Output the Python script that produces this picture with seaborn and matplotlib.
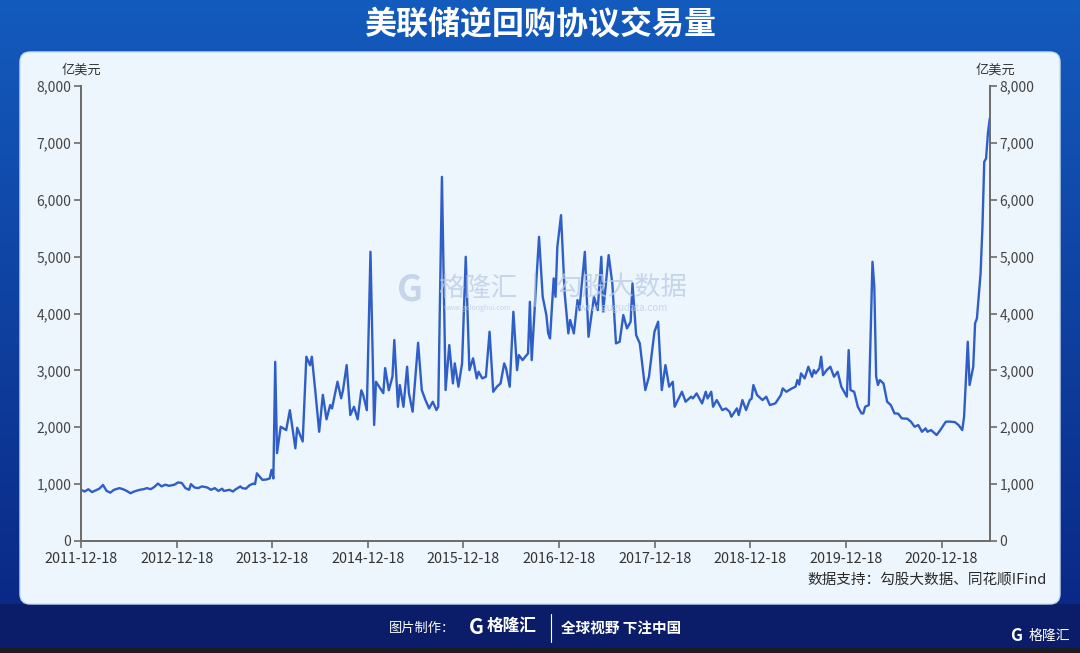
import numpy as np
import pandas as pd
import matplotlib
matplotlib.use("Agg")
import matplotlib.pyplot as plt
from matplotlib.patches import FancyBboxPatch, Rectangle
from matplotlib.ticker import FuncFormatter
import seaborn as sns

# ---------------- data ----------------
start_date = "2011-12-18"
week_offsets = [
    0, 2, 4, 6, 8, 10, 12, 14, 16, 18, 21, 23, 25, 27, 29, 32, 34, 36, 38, 40,
    42, 44, 46, 48, 51, 53, 55, 57, 59, 60, 62, 64, 66, 69, 71, 73, 75, 77, 78, 81,
    83, 84, 87, 88, 90, 92, 94, 95, 96, 99, 101, 103, 104, 105, 106, 107, 109, 112, 114, 117,
    118, 121, 123, 125, 126, 128, 130, 132, 134, 136, 137, 140, 142, 143, 145, 147, 149, 151, 153, 154,
    156, 158, 160, 161, 163, 165, 166, 168, 170, 171, 173, 174, 176, 178, 179, 181, 184, 186, 188, 190,
    192, 194, 195, 197, 199, 201, 203, 204, 206, 208, 210, 212, 214, 216, 217, 219, 221, 223, 225, 227,
    229, 231, 232, 234, 236, 238, 239, 241, 244, 245, 246, 248, 250, 252, 254, 255, 256, 258, 259, 260,
    262, 264, 266, 267, 269, 271, 272, 275, 277, 280, 282, 284, 285, 288, 290, 292, 294, 296, 298, 300,
    301, 303, 305, 308, 310, 313, 315, 317, 319, 321, 323, 324, 328, 330, 333, 334, 336, 339, 341, 342,
    344, 345, 347, 350, 352, 354, 355, 358, 359, 361, 363, 364, 365, 366, 367, 369, 372, 374, 376, 379,
    382, 383, 385, 388, 390, 391, 392, 393, 395, 397, 399, 400, 401, 403, 404, 405, 407, 409, 411, 413,
    415, 417, 418, 419, 420, 422, 424, 426, 427, 428, 430, 432, 433, 434, 435, 436, 438, 440, 442, 444,
    446, 448, 451, 453, 455, 457, 459, 461, 462, 464, 467, 469, 472, 474, 477, 479, 481, 482, 484, 485,
    487, 488, 489, 491, 492, 493, 494, 495, 496,
]
volume = [
    900, 870, 910, 860, 890, 920, 985, 880, 850, 900, 930, 910, 880, 840, 870, 900, 910, 930, 910, 950,
    1010, 960, 990, 970, 990, 1030, 1020, 930, 900, 1000, 940, 930, 960, 940, 900, 930, 880, 920, 880, 900,
    870, 900, 960, 930, 920, 980, 1010, 1000, 1190, 1075, 1080, 1100, 1250, 1100, 3150, 1545, 2009, 1950, 2300, 1630,
    1990, 1750, 3240, 3090, 3240, 2600, 1920, 2570, 2140, 2390, 2330, 2800, 2510, 2650, 3093, 2215, 2360, 2140, 2650, 2570,
    2300, 5085, 2040, 2800, 2700, 2600, 3040, 2650, 2890, 3533, 2360, 2742, 2360, 3064, 2595, 2273, 3486, 2654, 2478, 2332,
    2449, 2303, 2360, 6403, 2654, 3445, 2771, 3123, 2713, 3123, 4997, 3005, 3211, 2859, 2976, 2859, 2888, 3679, 2624, 2713,
    2771, 3123, 3035, 2713, 4030, 3005, 3269, 3181, 3298, 4206, 3181, 4294, 5348, 4294, 3972, 3650, 3562, 4617, 4294, 5172,
    5729, 4353, 3650, 3885, 3650, 4236, 4060, 5084, 3591, 4294, 4060, 4997, 4030, 5026, 4529, 3474, 3504, 3972, 3738, 3855,
    4529, 3621, 3474, 2654, 2888, 3679, 3855, 2654, 3093, 2713, 2800, 2360, 2624, 2449, 2537, 2507, 2595, 2419, 2624, 2507,
    2624, 2360, 2478, 2302, 2330, 2273, 2185, 2332, 2214, 2478, 2302, 2390, 2478, 2500, 2742, 2566, 2478, 2537, 2390, 2420,
    2566, 2683, 2624, 2683, 2712, 2830, 2750, 2947, 2859, 3064, 2888, 3005, 2947, 3035, 3240, 2917, 3005, 3064, 2888, 2976,
    2712, 2595, 2537, 3357, 2654, 2624, 2360, 2244, 2244, 2360, 2390, 4909, 4470, 2888, 2742, 2830, 2771, 2449, 2390, 2244,
    2240, 2156, 2150, 2097, 2009, 2038, 1921, 1980, 1921, 1950, 1863, 1950, 2097, 2100, 2090, 2038, 1950, 2185, 3503, 2742,
    3064, 3826, 3913, 4705, 5500, 6666, 6725, 7165, 7429,
]
x_tick_labels = ["2011-12-18", "2012-12-18", "2013-12-18", "2014-12-18", "2015-12-18",
                 "2016-12-18", "2017-12-18", "2018-12-18", "2019-12-18", "2020-12-18"]
y_ticks = [0, 1000, 2000, 3000, 4000, 5000, 6000, 7000, 8000]

title = "美联储逆回购协议交易量"
unit = "亿美元"
source = "数据支持：勾股大数据、同花顺IFind"

dates = pd.Timestamp(start_date) + pd.to_timedelta(np.array(week_offsets) * 7, unit="D")
df = pd.DataFrame({"date": dates, "volume": volume})

# ---------------- style ----------------
sns.set_style("ticks")
plt.rcParams["font.family"] = ["Noto Sans CJK SC", "DejaVu Sans"]

W, H = 1080, 653
fig = plt.figure(figsize=(W / 100, H / 100), dpi=100)

def fx(px):
    return px / W

def fy(py):
    return 1 - py / H

# background gradient
bg = fig.add_axes([0, 0, 1, 1])
bg.set_zorder(-5)
grad_top = np.array([0x13, 0x5b, 0xbd]) / 255
grad_bot = np.array([0x0a, 0x25, 0x82]) / 255
t = np.linspace(0, 1, 256)[:, None]
img = grad_top[None, :] * (1 - t) + grad_bot[None, :] * t
img = np.repeat(img[:, None, :], 2, axis=1)
bg.imshow(img, aspect="auto", extent=[0, 1, 0, 1], origin="upper")
bg.add_patch(Rectangle((0, 0), 1, fy(604), color="#0b1d69", zorder=2))
bg.add_patch(Rectangle((0, 0), 1, fy(648), color="#1c1c24", zorder=3))
bg.set_xlim(0, 1)
bg.set_ylim(0, 1)
bg.axis("off")

# panel
panel = FancyBboxPatch((0.20, (H - 604) / 100), 10.40, 5.52,
                       boxstyle="round,pad=0,rounding_size=0.1",
                       transform=fig.dpi_scale_trans, facecolor="#edf5fd",
                       edgecolor="#c9dcf3", linewidth=1.0, zorder=-4)
fig.add_artist(panel)

# main axes
left, right, top, bottom = 81, 990, 86, 541
ax = fig.add_axes([fx(left), fy(bottom), fx(right) - fx(left), fy(top) - fy(bottom)])
ax.set_zorder(2)
ax.patch.set_visible(False)

sns.lineplot(data=df, x="date", y="volume", ax=ax, color="#2f5fc6", linewidth=1.7)
for ln in ax.lines:
    ln.set_solid_joinstyle("round")
    ln.set_solid_capstyle("round")

ax.set_ylim(0, 8000)
ax.set_xlim(dates[0], dates[-1] + pd.Timedelta(days=1))
tick_dates = pd.to_datetime(x_tick_labels)
ax.set_xticks(tick_dates)
ax.set_xticklabels(x_tick_labels)
ax.set_yticks(y_ticks)
fmt = FuncFormatter(lambda v, p: f"{int(v):,}")
ax.yaxis.set_major_formatter(fmt)
ax.set_xlabel("")
ax.set_ylabel("")
for s in ["top", "right"]:
    ax.spines[s].set_visible(False)
for s in ["left", "bottom"]:
    ax.spines[s].set_color("#6b6b6b")
    ax.spines[s].set_linewidth(1.4)
ax.tick_params(axis="both", colors="#6b6b6b", length=5, width=1.2, direction="out")
ax.tick_params(axis="x", labelsize=10.3, labelcolor="#333333", pad=3)
ax.tick_params(axis="y", labelsize=10, labelcolor="#444444", pad=2)

ax2 = ax.twinx()
ax2.set_zorder(2)
ax2.patch.set_visible(False)
ax2.set_ylim(0, 8000)
ax2.set_yticks(y_ticks)
ax2.yaxis.set_major_formatter(fmt)
for s in ["top", "left", "bottom"]:
    ax2.spines[s].set_visible(False)
ax2.spines["right"].set_color("#6b6b6b")
ax2.spines["right"].set_linewidth(1.4)
ax2.tick_params(axis="y", colors="#6b6b6b", length=5, width=1.2, direction="out",
                labelsize=10, labelcolor="#444444", pad=2)

# units
fig.text(fx(81), fy(70), unit, ha="center", va="center", fontsize=9.5, color="#333333")
fig.text(fx(995), fy(70), unit, ha="center", va="center", fontsize=9.5, color="#333333")

# title
fig.text(0.5, fy(25), title, ha="center", va="center", fontsize=23, color="white",
         fontweight="bold")

# source
fig.text(fx(1047), fy(580), source, ha="right", va="center", fontsize=10.5,
         color="#2a2a2a", fontweight="medium")

# watermark
wm_color = "#b9cbe4"
fig.text(fx(410), fy(290), "G", ha="center", va="center", fontsize=26, color=wm_color,
         fontweight="bold", alpha=0.75, zorder=5)
fig.text(fx(478), fy(288), "格隆汇", ha="center", va="center", fontsize=19, color=wm_color,
         alpha=0.75, zorder=5)
fig.text(fx(478), fy(308), "www.gelonghui.com", ha="center", va="center", fontsize=5,
         color=wm_color, alpha=0.75, zorder=5)
fig.text(fx(535), fy(290), "|", ha="center", va="center", fontsize=22, color=wm_color,
         alpha=0.6, zorder=5)
fig.text(fx(622), fy(287), "勾股大数据", ha="center", va="center", fontsize=19, color=wm_color,
         alpha=0.75, zorder=5)
fig.text(fx(622), fy(308), "www.gugudata.com", ha="center", va="center", fontsize=7,
         color=wm_color, alpha=0.75, zorder=5)

# footer
fig.text(fx(455), fy(628), "图片制作：", ha="right", va="center", fontsize=9.5, color="white")
fig.text(fx(476), fy(628), "G", ha="center", va="center", fontsize=15, color="white",
         fontweight="bold")
fig.text(fx(512), fy(626), "格隆汇", ha="center", va="center", fontsize=12, color="white",
         fontweight="bold")
fig.add_artist(plt.Line2D([fx(551), fx(551)], [fy(614), fy(642)], color="white",
                          linewidth=0.8, transform=fig.transFigure))
fig.text(fx(561), fy(628), "全球视野 下注中国", ha="left", va="center", fontsize=10.5,
         color="white", fontweight="bold")
fig.text(fx(1016), fy(636), "G", ha="center", va="center", fontsize=12, color="white",
         fontweight="bold")
fig.text(fx(1049), fy(636), "格隆汇", ha="center", va="center", fontsize=10, color="white")

fig.savefig("out.png", dpi=100)
